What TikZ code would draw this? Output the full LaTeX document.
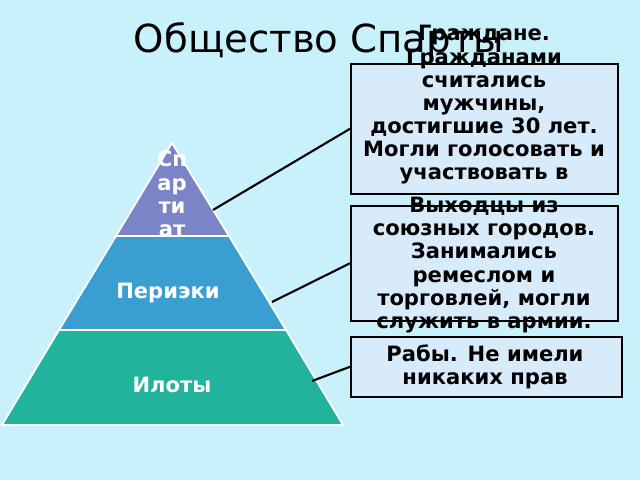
\documentclass[tikz,border=0pt]{standalone}
\usepackage{fontspec}
\setmainfont{DejaVu Sans}
\usetikzlibrary{positioning}
\definecolor{bgcyan}{HTML}{C9F1FB}
\definecolor{tierA}{HTML}{7A84C6}
\definecolor{tierB}{HTML}{3A9FD0}
\definecolor{tierC}{HTML}{22B39C}
\definecolor{boxfill}{HTML}{D8EBFB}
\tikzset{
  infobox/.style={draw=black,fill=boxfill,line width=0.9pt},
  infotext/.style={align=center,font=\bfseries\fontsize{12}{13.2}\selectfont},
  tiertext/.style={text=white,font=\bfseries\fontsize{12}{13.2}\selectfont,align=center}
}
\begin{document}
\begin{tikzpicture}[x=0.02cm,y=-0.02cm]
\fill[bgcyan] (0,0) rectangle (640,480);
\useasboundingbox (0,0) rectangle (640,480);
\node (title) at (319,42) {\fontsize{22}{25}\selectfont Общество Спарты};
% pyramid
\fill[tierC,draw=white,line width=1pt] (2,425) -- (343,425) -- (286,330) -- (59,330) -- cycle;
\fill[tierB,draw=white,line width=1pt] (59,330) -- (286,330) -- (229,236) -- (116,236) -- cycle;
\fill[tierA,draw=white,line width=1pt] (116,236) -- (229,236) -- (172,143) -- cycle;
\node[tiertext] (spart) at (172,194) {Сп\\ар\\ти\\ат};
\node[tiertext] (perieki) at (168,293) {Периэки};
\node[tiertext] (iloty) at (172,385) {Илоты};
% boxes
\node[infobox,minimum width=5.34cm,minimum height=2.6cm,anchor=north west] (boxA) at (350,63) {};
\node[infobox,minimum width=5.34cm,minimum height=2.3cm,anchor=north west] (boxB) at (350,205) {};
\node[infobox,minimum width=5.42cm,minimum height=1.2cm,anchor=north west] (boxC) at (350,336) {};
\node[infotext] (textA) at (484,105) {Граждане.\\Гражданами\\считались\\мужчины,\\достигшие 30 лет.\\Могли голосовать и\\участвовать в};
\node[infotext] (textB) at (484,265) {Выходцы из\\союзных городов.\\Занимались\\ремеслом и\\торговлей, могли\\служить в армии.};
\node[infotext] (textC) at (485,367) {Рабы. Не имели\\никаких прав};
% connectors
\coordinate (endA) at (213,210);
\coordinate (endB) at (272,302);
\coordinate (endC) at (312,381);
\draw[line width=1.2pt] (endA) -- (boxA.west);
\draw[line width=1.2pt] (endB) -- (boxB.west);
\draw[line width=1.2pt] (endC) -- (boxC.west);
\end{tikzpicture}
\end{document}
